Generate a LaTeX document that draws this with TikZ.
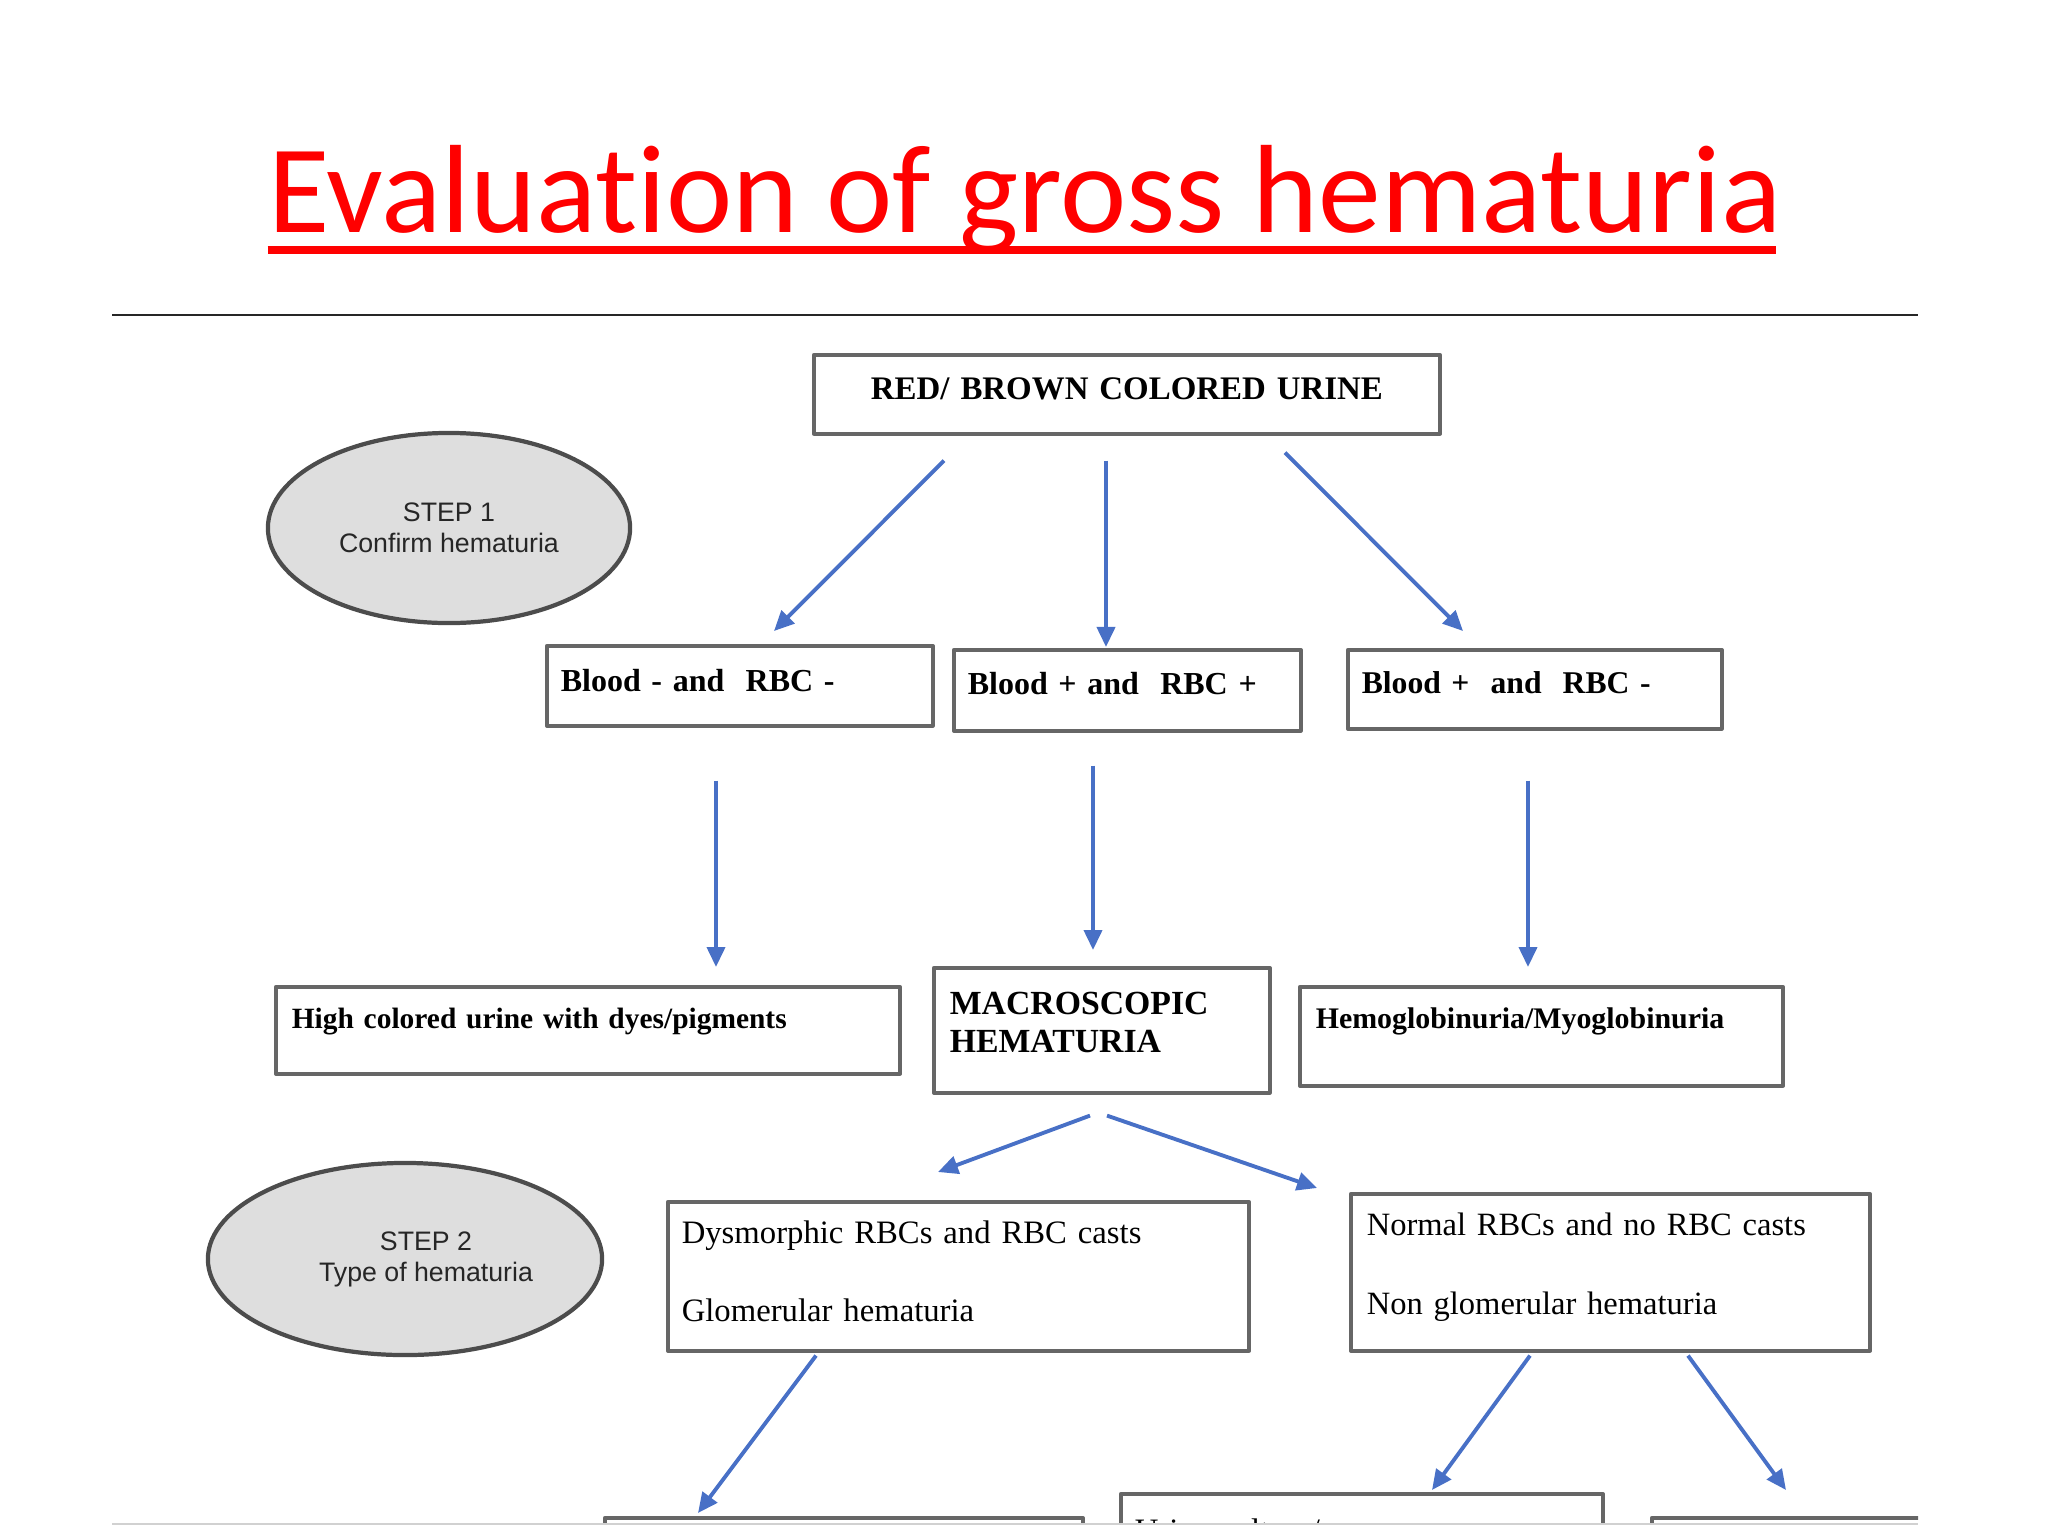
\documentclass[tikz,border=0pt]{standalone}
\usepackage{fontspec}
\setmainfont{Liberation Serif}
\setsansfont{Liberation Sans}
\newfontfamily\titlefont[Ligatures={NoCommon,NoContextual}]{Carlito}
\usetikzlibrary{shapes.geometric,arrows.meta,calc}
\definecolor{arrowblue}{RGB}{72,112,198}
\definecolor{titlered}{RGB}{255,0,0}
\begin{document}
\begin{tikzpicture}[x=0.01cm, y=-0.01cm, line join=round,
    flowbox/.style={draw=black!60, line width=1pt, anchor=north west, inner ysep=0pt, inner xsep=0.14cm, align=left, font=\bfseries\fontsize{9.1}{11}\selectfont},
    plainbox/.style={flowbox, font=\fontsize{9.3}{22}\selectfont},
    stepoval/.style={ellipse, draw=black!70, fill=black!13, line width=1.2pt, inner sep=0pt, align=center, text=black!85, font=\sffamily\fontsize{7.6}{8.8}\selectfont},
    arrowline/.style={draw=arrowblue, line width=1.1pt, -{Triangle[length=0.2cm, width=0.18cm]}}]
    \useasboundingbox (0,0) rectangle (2048,1536);
    \def\xmin{112}\def\xmax{1918}
    % title
    \node[anchor=base, inner sep=0pt, text=titlered, font=\titlefont\fontsize{35.7}{40}\selectfont] (title) at (1025,232) {Evaluation of gross hematuria};
    \draw[titlered, line width=0.08cm] ($(title.base west)+(0,18)$) -- ($(title.base east)+(-6,18)$);
    \draw[black!85, line width=0.6pt] (\xmin,315) -- (\xmax,315);
    % step ovals
    \node[stepoval, minimum width=3.62cm, minimum height=1.9cm] (step1) at (449,528) {STEP 1\\Confirm hematuria};
    \node[stepoval, minimum width=3.94cm, minimum height=1.92cm, yshift=-0.04cm] (step2) at (405,1255) {\hspace*{0.42cm}STEP 2\\\hspace*{0.42cm}Type of hematuria};
    % boxes
    \node[flowbox, font=\bfseries\fontsize{9.36}{11}\selectfont, align=center, text width=5.98cm, text height=0.45cm, text depth=0.34cm] (urine) at (812,353) {RED/ BROWN COLORED URINE};
    \node[flowbox, text width=3.58cm, text height=0.46cm, text depth=0.34cm] (negneg) at (545,644) {Blood - and~ RBC -};
    \node[flowbox, text width=3.19cm, text height=0.45cm, text depth=0.36cm] (pospos) at (952,648) {Blood + and~ RBC +};
    \node[flowbox, font=\bfseries\fontsize{9.0}{11}\selectfont, text width=3.46cm, text height=0.44cm, text depth=0.35cm] (posneg) at (1346,648) {Blood +~ and~ RBC -};
    \node[flowbox, font=\bfseries\fontsize{8.37}{10}\selectfont, inner xsep=0.16cm, text width=5.92cm, text height=0.42cm, text depth=0.45cm] (dyes) at (274,985) {High colored urine with dyes/pigments};
    \node[flowbox, font=\bfseries\fontsize{9.6}{10.8}\selectfont, inner xsep=0.16cm, text width=3.04cm, text height=0.47cm, text depth=0.78cm] (macro) at (932,966) {MACROSCOPIC\\HEMATURIA};
    \node[flowbox, font=\bfseries\fontsize{8.5}{10}\selectfont, inner xsep=0.16cm, text width=4.51cm, text height=0.42cm, text depth=0.57cm] (hemo) at (1298,985) {Hemoglobinuria/Myoglobinuria};
    \node[plainbox, text width=5.53cm, text height=0.42cm, text depth=1.07cm] (glom) at (666,1200) {Dysmorphic RBCs and RBC casts\\Glomerular hematuria};
    \node[plainbox, font=\fontsize{9.25}{22.4}\selectfont, inner xsep=0.16cm, text width=4.87cm, text height=0.42cm, text depth=1.15cm] (nonglom) at (1349,1192) {Normal RBCs and no RBC casts\\Non glomerular hematuria};
    \begin{scope}
        \clip (\xmin,0) rectangle (\xmax,1523);
        \node[plainbox, text width=4.5cm, text height=0.5cm, text depth=0.5cm] (lowleft) at (603,1516) {};
        \node[plainbox, text width=4.54cm, text height=0.48cm, text depth=0.5cm] (culture) at (1119,1492) {Urine culture/};
        \node[plainbox, text width=4.5cm, text height=0.5cm, text depth=0.5cm] (lowright) at (1650,1516) {};
    \end{scope}
    \draw[black!18, line width=0.6pt] (\xmin,1524) -- (\xmax,1524);
    % arrows
    \draw[arrowline] ($(urine.south west)+(132,25)$) -- ($(negneg.north west)+(229,-13)$);
    \draw[arrowline] ($(urine.south west)+(294,25)$) -- ($(pospos.north west)+(154,-1)$);
    \draw[arrowline] ($(urine.south west)+(473,17)$) -- ($(posneg.north west)+(117,-17)$);
    \draw[arrowline] ($(negneg.south west)+(171,53)$) -- ($(dyes.north west)+(442,-18)$);
    \draw[arrowline] ($(pospos.south west)+(141,33)$) -- ($(macro.north west)+(161,-16)$);
    \draw[arrowline] ($(posneg.south west)+(182,50)$) -- ($(hemo.north west)+(230,-18)$);
    \draw[arrowline] ($(macro.south west)+(158,21)$) -- ($(glom.north west)+(272,-28)$);
    \draw[arrowline] ($(macro.south west)+(175,21)$) -- ($(nonglom.north west)+(-32,-4)$);
    \draw[arrowline] ($(glom.south west)+(150,3)$) -- ($(lowleft.north west)+(95,-3)$);
    \draw[arrowline] ($(nonglom.south west)+(181,3)$) -- ($(culture.north west)+(313,-2)$);
    \draw[arrowline] ($(nonglom.south west)+(339,3)$) -- ($(lowright.north west)+(136,-26)$);
\end{tikzpicture}
\end{document}
